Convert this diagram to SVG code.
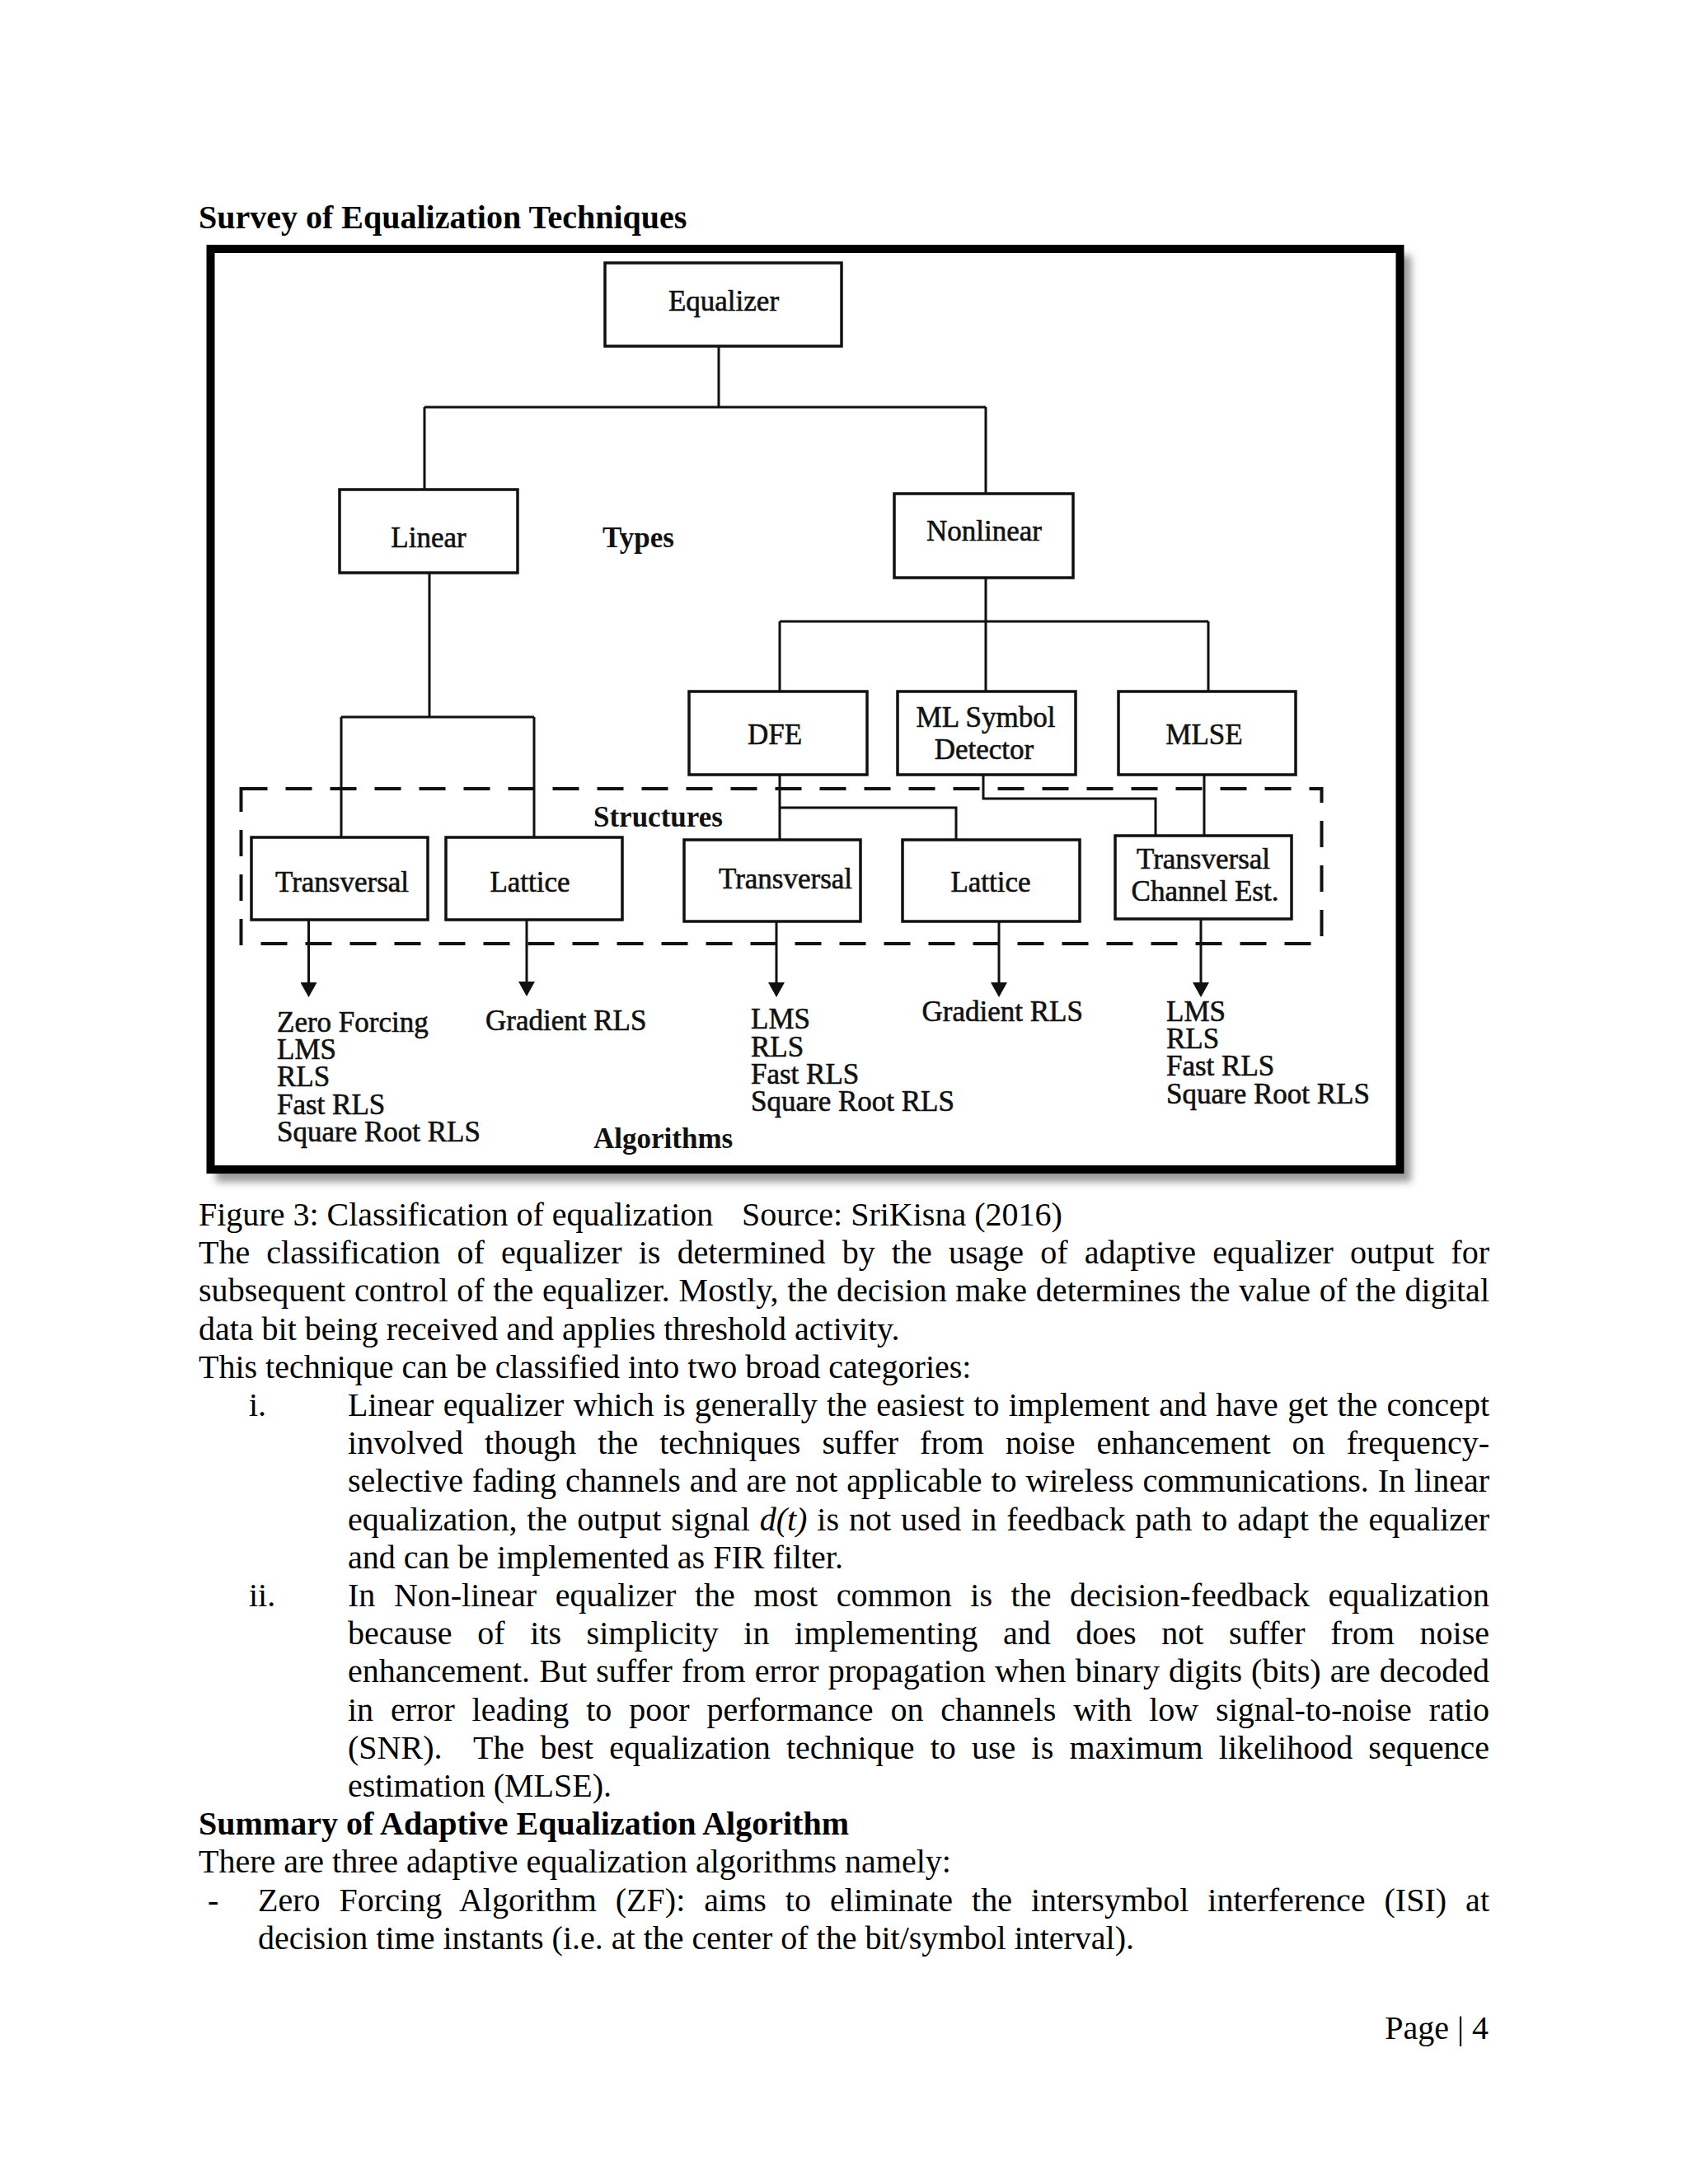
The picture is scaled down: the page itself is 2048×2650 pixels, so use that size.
<svg xmlns="http://www.w3.org/2000/svg" width="2048" height="2650" viewBox="0 0 2048 2650">
<style>
.body{font-family:"Liberation Serif","Times New Roman",serif;font-size:40px;fill:#000}
.bold{font-weight:bold}
.dg{font-family:"Liberation Serif","Times New Roman",serif;font-size:35px;fill:#111;stroke:#111;stroke-width:0.6}
.dgb{font-family:"Liberation Serif","Times New Roman",serif;font-size:35px;font-weight:bold;fill:#111}
.mid{text-anchor:middle}
.box{fill:#fff;stroke:#111;stroke-width:3.5}
.con{fill:none;stroke:#111;stroke-width:3}
.arr{fill:none;stroke:#111;stroke-width:3;marker-end:url(#ah)}
</style>
<defs>
<marker id="ah" markerUnits="userSpaceOnUse" markerWidth="18" markerHeight="20" viewBox="0 0 18 20" refX="8" refY="10" orient="auto">
<path d="M0,0 L18,10 L0,20 Z" fill="#111"/>
</marker>
<filter id="sh" x="-5%" y="-5%" width="110%" height="110%">
<feGaussianBlur stdDeviation="5"/>
</filter>
</defs>
<rect width="2048" height="2650" fill="#fff"/>

<text class="body bold" x="241" y="277">Survey of Equalization Techniques</text>

<!-- frame -->
<rect x="262" y="310" width="1450" height="1124" fill="#9a9a9a" filter="url(#sh)"/>
<rect x="255.5" y="302" width="1443" height="1117" fill="#fff" stroke="#000" stroke-width="10"/>

<!-- dashed structures region -->
<rect x="292.5" y="957" width="1311" height="188" fill="none" stroke="#111" stroke-width="4" stroke-dasharray="32 22"/>

<!-- connectors -->
<g id="connectors">
<path class="con" d="M872,420 V494 M515,494 H1196 M515,494 V594 M1196,494 V599"/>
<path class="con" d="M521,695 V870 M414,870 H648 M414,870 V1016 M648,870 V1016"/>
<path class="con" d="M1196,701 V839 M946,754 H1466 M946,754 V839 M1466,754 V839"/>
<path class="con" d="M946,940 V1019 M946,980 H1160 V1019"/>
<path class="con" d="M1193,940 V969 H1402 V1014"/>
<path class="con" d="M1461,940 V1014"/>
<path class="arr" d="M374.5,1116 V1200"/>
<path class="arr" d="M639,1116 V1199"/>
<path class="arr" d="M942,1118 V1200"/>
<path class="arr" d="M1212,1118 V1200"/>
<path class="arr" d="M1457,1115 V1200"/>
</g>

<!-- nodes -->
<g id="equalizer"><rect class="box" x="734" y="319" width="287" height="101"/><text class="dg mid" x="878" y="377">Equalizer</text></g>
<g id="linear"><rect class="box" x="412" y="594" width="216" height="101"/><text class="dg mid" x="520" y="664">Linear</text></g>
<g id="nonlinear"><rect class="box" x="1085" y="599" width="217" height="102"/><text class="dg mid" x="1194" y="656">Nonlinear</text></g>
<g id="dfe"><rect class="box" x="836" y="839" width="216" height="101"/><text class="dg mid" x="940" y="903">DFE</text></g>
<g id="mlsd"><rect class="box" x="1089" y="839" width="216" height="101"/><text class="dg mid" x="1196" y="882">ML Symbol</text><text class="dg mid" x="1194" y="921">Detector</text></g>
<g id="mlse"><rect class="box" x="1357" y="839" width="215" height="101"/><text class="dg mid" x="1461" y="903">MLSE</text></g>
<g id="transversal1"><rect class="box" x="305" y="1016" width="214" height="100"/><text class="dg mid" x="415" y="1082">Transversal</text></g>
<g id="lattice1"><rect class="box" x="541" y="1016" width="214" height="100"/><text class="dg mid" x="643" y="1082">Lattice</text></g>
<g id="transversal2"><rect class="box" x="830" y="1019" width="214" height="99"/><text class="dg mid" x="953" y="1078">Transversal</text></g>
<g id="lattice2"><rect class="box" x="1095" y="1019" width="215" height="99"/><text class="dg mid" x="1202" y="1082">Lattice</text></g>
<g id="tce"><rect class="box" x="1353" y="1014" width="214" height="101"/><text class="dg mid" x="1460" y="1054">Transversal</text><text class="dg mid" x="1462" y="1093">Channel Est.</text></g>

<!-- labels -->
<text class="dgb" x="731" y="664">Types</text>
<text class="dgb" x="720" y="1003">Structures</text>
<text class="dgb" x="720" y="1393">Algorithms</text>

<g id="alg1" class="dg">
<text x="336" y="1252">Zero Forcing</text>
<text x="336" y="1285">LMS</text>
<text x="336" y="1318">RLS</text>
<text x="336" y="1352">Fast RLS</text>
<text x="336" y="1385">Square Root RLS</text>
</g>
<g id="alg2" class="dg"><text x="589" y="1250">Gradient RLS</text></g>
<g id="alg3" class="dg">
<text x="911" y="1248">LMS</text>
<text x="911" y="1281.5">RLS</text>
<text x="911" y="1315">Fast RLS</text>
<text x="911" y="1348">Square Root RLS</text>
</g>
<g id="alg4" class="dg"><text x="1118.5" y="1238.5">Gradient RLS</text></g>
<g id="alg5" class="dg">
<text x="1415" y="1238.5">LMS</text>
<text x="1415" y="1272">RLS</text>
<text x="1415" y="1305">Fast RLS</text>
<text x="1415" y="1339">Square Root RLS</text>
</g>

<!-- body text -->
<text class="body" x="241" y="1487">Figure 3: Classification of equalization</text>
<text class="body" x="900" y="1487">Source: SriKisna (2016)</text>
<text class="body" x="241" y="1533" style="word-spacing:10.2px" textLength="1566" lengthAdjust="spacing">The classification of equalizer is determined by the usage of adaptive equalizer output for</text>
<text class="body" x="241" y="1579" style="word-spacing:0.6px" textLength="1566" lengthAdjust="spacing">subsequent control of the equalizer. Mostly, the decision make determines the value of the digital</text>
<text class="body" x="241" y="1626">data bit being received and applies threshold activity.</text>
<text class="body" x="241" y="1672">This technique can be classified into two broad categories:</text>
<text class="body" x="302" y="1718">i.</text>
<text class="body" x="422" y="1718" style="word-spacing:1.35px" textLength="1385" lengthAdjust="spacing">Linear equalizer which is generally the easiest to implement and have get the concept</text>
<text class="body" x="422" y="1764" style="word-spacing:16px" textLength="1385" lengthAdjust="spacing">involved though the techniques suffer from noise enhancement on frequency-</text>
<text class="body" x="422" y="1810" style="word-spacing:0.9px" textLength="1385" lengthAdjust="spacing">selective fading channels and are not applicable to wireless communications. In linear</text>
<text class="body" x="422" y="1857" style="word-spacing:1.9px" textLength="1385" lengthAdjust="spacing">equalization, the output signal <tspan font-style="italic">d(t)</tspan> is not used in feedback path to adapt the equalizer</text>
<text class="body" x="422" y="1903">and can be implemented as FIR filter.</text>
<text class="body" x="302" y="1949">ii.</text>
<text class="body" x="422" y="1949" style="word-spacing:12.6px" textLength="1385" lengthAdjust="spacing">In Non-linear equalizer the most common is the decision-feedback equalization</text>
<text class="body" x="422" y="1995" style="word-spacing:20.6px" textLength="1385" lengthAdjust="spacing">because of its simplicity in implementing and does not suffer from noise</text>
<text class="body" x="422" y="2041" style="word-spacing:1.1px" textLength="1385" lengthAdjust="spacing">enhancement. But suffer from error propagation when binary digits (bits) are decoded</text>
<text class="body" x="422" y="2088" style="word-spacing:10.9px" textLength="1385" lengthAdjust="spacing">in error leading to poor performance on channels with low signal-to-noise ratio</text>
<text class="body" x="422" y="2134" xml:space="preserve" style="word-spacing:9.15px" textLength="1385" lengthAdjust="spacing">(SNR).  The best equalization technique to use is maximum likelihood sequence</text>
<text class="body" x="422" y="2180">estimation (MLSE).</text>
<text class="body bold" x="241" y="2226">Summary of Adaptive Equalization Algorithm</text>
<text class="body" x="241" y="2272">There are three adaptive equalization algorithms namely:</text>
<text class="body" x="252" y="2319">-</text>
<text class="body" x="313" y="2319" style="word-spacing:12.9px" textLength="1494" lengthAdjust="spacing">Zero Forcing Algorithm (ZF): aims to eliminate the intersymbol interference (ISI) at</text>
<text class="body" x="313" y="2365">decision time instants (i.e. at the center of the bit/symbol interval).</text>
<text class="body" x="1806" y="2474" text-anchor="end">Page | 4</text>
</svg>
